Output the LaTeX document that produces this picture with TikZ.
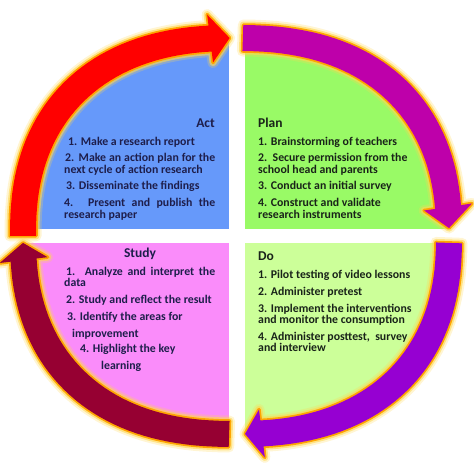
\documentclass[tikz,border=0pt]{standalone}
\usepackage{fontspec}
\setmainfont{Carlito}
\usepackage{xcolor}

\definecolor{actblue}{RGB}{102,153,250}
\definecolor{plangreen}{RGB}{153,250,102}
\definecolor{studypink}{RGB}{250,140,250}
\definecolor{dogreen}{RGB}{204,255,153}
\definecolor{arrowred}{RGB}{255,0,0}
\definecolor{arrowmagenta}{RGB}{190,0,170}
\definecolor{arrowviolet}{RGB}{150,0,210}
\definecolor{arrowmaroon}{RGB}{150,0,50}
\definecolor{glowyellow}{RGB}{255,215,80}
\definecolor{gloworange}{RGB}{255,165,0}
\definecolor{navytext}{RGB}{30,30,75}
\definecolor{darktext}{RGB}{25,35,25}

\begin{document}
\begin{tikzpicture}[
    x=1pt, y=1pt,
    % squarish ring round the centre (236,238)
    declare function={
        ringx(\t,\r)=236+\r*(cos(\t)<0 ? -1 : 1)*pow(abs(cos(\t))+0.00001,0.851);
        ringy(\t,\r)=238+\r*(sin(\t)<0 ? -1 : 1)*pow(abs(sin(\t))+0.00001,0.851);
    },
    item/.style={anchor=base west, inner sep=0pt, font=\fontsize{11.8}{12}\selectfont\bfseries},
    lefttext/.style={item, text=navytext},
    righttext/.style={item, text=darktext},
    heading/.style={font=\fontsize{13.5}{14}\selectfont\bfseries},
    cyclearrow/.style={fill=#1,
        preaction={draw=glowyellow, line width=11pt, opacity=0.25, line join=round},
        preaction={draw=glowyellow, line width=7pt, opacity=0.6, line join=round},
        preaction={draw=gloworange, line width=3.5pt, line join=round}}
]
    \useasboundingbox (0,0) rectangle (474,474);

    % quadrants, cut to the ring
    \begin{scope}
        \clip plot[domain=0:360, samples=145] ({ringx(\x,213)},{ringy(\x,198)}) -- cycle;
        \fill[actblue] (229,245) rectangle (0,474);
        \fill[plangreen] (245,245) rectangle (474,474);
        \fill[studypink] (229,231) rectangle (0,0);
        \fill[dogreen] (245,231) rectangle (474,0);
    \end{scope}

    % Act
    \node[lefttext, heading, anchor=base east] (act) at (215,346) {Act};
    \foreach \ya/\xa/\lbl [count=\i] in {
        328/68/{1. Make a research report},
        312/65/{\makebox[150pt][s]{2. Make an action plan for the}},
        300/64/{next cycle of action research},
        284/66/{3. Disseminate the findings},
        267/64/{\makebox[151pt][s]{4. Present and publish the}},
        255/64/{research paper}}
        \node[lefttext] (act-\i) at (\xa,\ya) {\lbl};

    % Plan
    \node[righttext, heading] (plan) at (258,346) {Plan};
    \foreach \ya/\lbl [count=\i] in {
        328/{1. Brainstorming of teachers},
        312/{2.\ \ Secure permission from the},
        300/{school head and parents},
        284/{3. Conduct an initial survey},
        267/{4. Construct and validate},
        255/{research instruments}}
        \node[righttext] (plan-\i) at (258,\ya) {\lbl};

    % Study
    \node[lefttext, heading, anchor=base] (study) at (140,216) {Study};
    \foreach \ya/\xa/\lbl [count=\i] in {
        198/66/{\makebox[149pt][s]{1. Analyze and interpret the}},
        187/64/{data},
        170/66/{2. Study and reflect the result},
        153/67/{3. Identify the areas for},
        136/72/{improvement},
        121/80/{4. Highlight the key},
        104/101/{learning}}
        \node[lefttext] (study-\i) at (\xa,\ya) {\lbl};

    % Do
    \node[righttext, heading] (do) at (258,213) {Do};
    \foreach \ya/\lbl [count=\i] in {
        195/{1. Pilot testing of video lessons},
        178/{2. Administer pretest},
        161/{3. Implement the interventions},
        150/{and monitor the consumption},
        133/{4. Administer posttest,\ \ survey},
        122/{and interview}}
        \node[righttext] (do-\i) at (258,\ya) {\lbl};

    % ring arrows: colour / start / head base / tip
    \foreach \col/\sa/\ba/\ta in {arrowred/180/94.8/90.9, arrowmagenta/89/6/1.3,
                                  arrowviolet/-1.1/-85.2/-88.6, arrowmaroon/269/184.8/181.1}
        \path[cyclearrow=\col]
            plot[domain=\sa:\ba, samples=40] ({ringx(\x,226)},{ringy(\x,211)})
            -- ({ringx(\ba,237)},{ringy(\ba,222)})
            -- ({ringx(\ta,213)},{ringy(\ta,198)})
            -- ({ringx(\ba,189)},{ringy(\ba,174)})
            -- plot[domain=\ba:\sa, samples=40] ({ringx(\x,200)},{ringy(\x,185)})
            -- cycle;
\end{tikzpicture}
\end{document}
